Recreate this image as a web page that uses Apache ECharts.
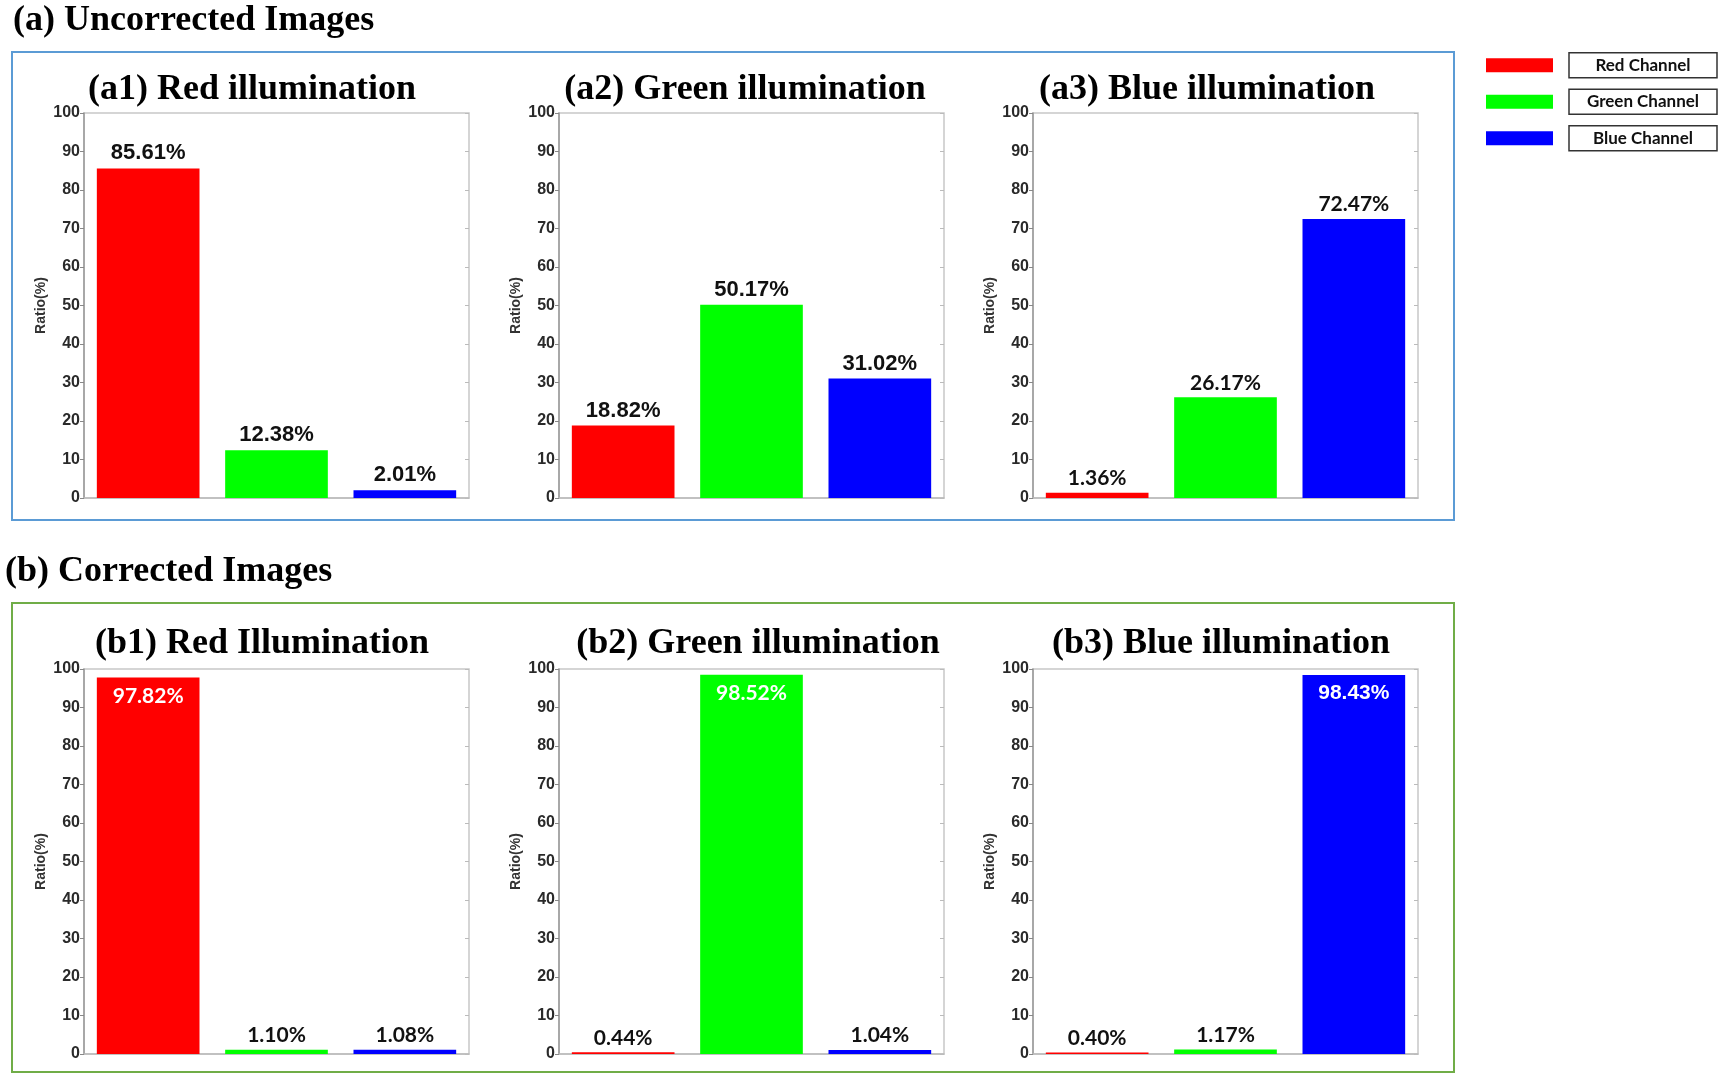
<!DOCTYPE html>
<html>
<head>
<meta charset="utf-8">
<script src="https://cdn.jsdelivr.net/npm/echarts@6/dist/echarts.min.js"></script>
<style>
  html, body { margin: 0; padding: 0; background: #fff; }
  #chart { width: 1724px; height: 1079px; }
</style>
</head>
<body>
<div id="chart"></div>
<script>
// channel names and colours
const channels = ['Red Channel', 'Green Channel', 'Blue Channel'];
const channelColors = ['#ff0000', '#00ff00', '#0000ff'];

// panel titles
const sectionTitles = ['(a) Uncorrected Images', '(b) Corrected Images'];
const panelTitles = [
  '(a1) Red illumination', '(a2) Green illumination', '(a3) Blue illumination',
  '(b1) Red Illumination', '(b2) Green illumination', '(b3) Blue illumination'
];

// ratio (%) of each channel, per panel
const a1Values = [85.61, 12.38, 2.01];
const a2Values = [18.82, 50.17, 31.02];
const a3Values = [1.36, 26.17, 72.47];
const b1Values = [97.82, 1.10, 1.08];
const b2Values = [0.44, 98.52, 1.04];
const b3Values = [0.40, 1.17, 98.43];
const panelValues = [a1Values, a2Values, a3Values, b1Values, b2Values, b3Values];

// y axis
const yMin = 0, yMax = 100, yStep = 10;
const yName = 'Ratio(%)';

// layout of the six plots (pixels)
const colLeft = [84, 559, 1033];
const rowTop = [113, 669];
const plotW = 385, plotH = 385;
const titleCenter = [252, 745, 1207, 262, 758, 1221];
const titleTop = [72, 626];
// label font per panel (small/outside labels, big/inside labels)
const labelFont = ['Liberation Sans', 'Liberation Sans', 'Lato', 'Lato', 'Lato', 'Lato'];
const insideFont = ['Lato', 'Lato', 'Lato', 'Lato', 'Lato', 'Liberation Sans'];

const myChart = echarts.init(document.getElementById('chart'));

const grid = [], xAxis = [], yAxis = [], series = [], title = [];

title.push({
  text: sectionTitles[0], left: 13, top: 3, padding: 0,
  textStyle: { fontFamily: 'Liberation Serif', fontWeight: 'bold', fontSize: 36, color: '#000' }
});
title.push({
  text: sectionTitles[1], left: 5, top: 554, padding: 0,
  textStyle: { fontFamily: 'Liberation Serif', fontWeight: 'bold', fontSize: 36, color: '#000' }
});

panelValues.forEach(function (vals, p) {
  const row = Math.floor(p / 3), col = p % 3;
  const corrected = row === 1;
  grid.push({
    left: colLeft[col], top: rowTop[row], width: plotW, height: plotH,
    show: true, borderColor: '#c8c8c8', borderWidth: 1.5, backgroundColor: '#fff'
  });
  title.push({
    text: panelTitles[p], left: titleCenter[p], top: titleTop[row], padding: 0,
    textAlign: 'center',
    textStyle: { fontFamily: 'Liberation Serif', fontWeight: 'bold', fontSize: 36, color: '#000' }
  });
  xAxis.push({
    type: 'category', gridIndex: p, data: channels,
    axisLine: { show: true, lineStyle: { color: '#bbb', width: 1.5 } },
    axisTick: { show: false }, axisLabel: { show: false }, splitLine: { show: false }
  });
  // left axis with labels
  yAxis.push({
    type: 'value', gridIndex: p, min: yMin, max: yMax, interval: yStep,
    name: yName, nameLocation: 'middle', nameGap: 36, nameRotate: 90,
    nameTextStyle: { fontFamily: 'Liberation Sans', fontWeight: 'bold', fontSize: 14, color: '#333' },
    axisLine: { show: true, lineStyle: { color: '#999', width: 1.5 } },
    axisTick: { show: true, length: 4, lineStyle: { color: '#888' } },
    axisLabel: { margin: 4, fontFamily: 'Liberation Sans', fontWeight: 'bold', fontSize: 16, color: '#2a2a2a' },
    splitLine: { show: false }
  });
  // right axis: ticks only
  yAxis.push({
    type: 'value', gridIndex: p, position: 'right', min: yMin, max: yMax, interval: yStep,
    axisLine: { show: false },
    axisTick: { show: true, inside: true, length: 4, lineStyle: { color: '#bbb' } },
    axisLabel: { show: false }, splitLine: { show: false }
  });
  channels.forEach(function (ch, c) {
    series.push({
      type: 'bar', name: ch, xAxisIndex: p, yAxisIndex: p * 2,
      barWidth: '80%', barGap: '-100%',
      itemStyle: { color: channelColors[c] },
      data: vals.map(function (v, i) {
        if (i !== c) return '-';
        const inside = corrected && v > 50;
        return {
          value: v,
          label: inside ? {
            show: true, position: 'insideTop', distance: 8, color: '#fff',
            fontFamily: insideFont[p], fontWeight: 'bold', fontSize: 21
          } : {
            show: true, position: 'top', distance: 4, color: '#111',
            fontFamily: labelFont[p], fontWeight: 'bold', fontSize: labelFont[p] === 'Lato' ? 21 : 22
          }
        };
      }),
      label: {
        formatter: function (d) { return d.value.toFixed(2) + '%'; }
      }
    });
  });
});

const option = {
  backgroundColor: '#fff',
  animation: false,
  title: title,
  legend: {
    data: channels, orient: 'vertical', left: 1481, top: 47,
    itemWidth: 67, itemHeight: 14, itemGap: 10, icon: 'rect',
    formatter: '{s|}{b|{name}}',
    textStyle: {
      rich: {
        s: { width: 11 },
        b: {
          fontFamily: 'Lato', fontWeight: 'bold', fontSize: 17, color: '#111',
          borderColor: '#333', borderWidth: 1.5, width: 132, height: 19,
          padding: [3, 8], align: 'center'
        }
      }
    }
  },
  graphic: [
    { type: 'rect', shape: { x: 12, y: 52, width: 1442, height: 468 },
      style: { fill: 'none', stroke: '#5b9bd5', lineWidth: 2 }, z: -1 },
    { type: 'rect', shape: { x: 12, y: 603, width: 1442, height: 469 },
      style: { fill: 'none', stroke: '#70ad47', lineWidth: 2 }, z: -1 }
  ],
  grid: grid,
  xAxis: xAxis,
  yAxis: yAxis,
  series: series
};

myChart.setOption(option);
</script>
</body>
</html>
